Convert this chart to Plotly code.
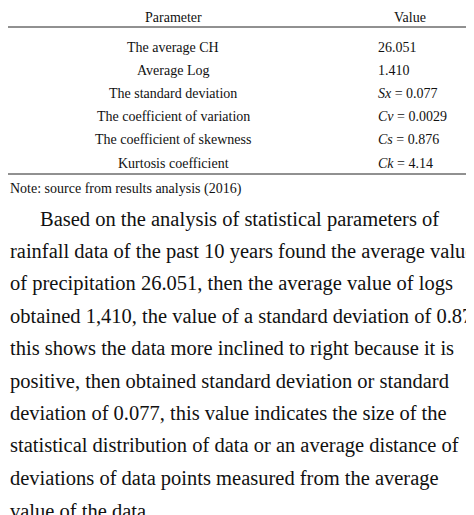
import plotly.graph_objects as go

params = ["The average CH", "Average Log", "The standard deviation",
          "The coefficient of variation", "The coefficient of skewness", "Kurtosis coefficient"]
values = ["26.051", "1.410", "<i>Sx</i> = 0.077", "<i>Cv</i> = 0.0029", "<i>Cs</i> = 0.876", "<i>Ck</i> = 4.14"]
note = "Note: source from results analysis (2016)"
para = [
    "Based on the analysis of statistical parameters of",
    "rainfall data of the past 10 years found the average value",
    "of precipitation 26.051, then the average value of logs",
    "obtained 1,410, the value of a standard deviation of 0.876",
    "this shows the data more inclined to right because it is",
    "positive, then obtained standard deviation or standard",
    "deviation of 0.077, this value indicates the size of the",
    "statistical distribution of data or an average distance of",
    "deviations of data points measured from the average",
    "value of the data.",
]

W, H = 474, 515
fig = go.Figure()
ann = []
tf = dict(family="Liberation Serif", size=14, color="#111")
ann.append(dict(x=165, y=9, text="Parameter", font=tf, xanchor="center"))
ann.append(dict(x=402, y=9, text="Value", font=tf, xanchor="center"))
for i, (p, v) in enumerate(zip(params, values)):
    y = 39 + i * 23.2
    ann.append(dict(x=165, y=y, text=p, font=tf, xanchor="center"))
    ann.append(dict(x=368, y=y, text=v, font=tf, xanchor="left"))
ann.append(dict(x=0, y=181, text=note, font=tf, xanchor="left"))
pf = dict(family="Liberation Serif", size=20.5, color="#111")
for i, line in enumerate(para):
    ann.append(dict(x=30 if i == 0 else 0, y=211 + i * 32.4, text=line, font=pf, xanchor="left"))
for a in ann:
    a.update(xref="x", yref="y", showarrow=False, yanchor="middle")

shapes = [dict(type="line", x0=0, x1=W, y0=y, y1=y, xref="x", yref="y",
               line=dict(color="#222", width=1)) for y in (19, 166)]

fig.update_layout(width=W, height=H, margin=dict(l=0, r=0, t=0, b=0),
                  paper_bgcolor="white", plot_bgcolor="white",
                  xaxis=dict(range=[0, W], visible=False),
                  yaxis=dict(range=[H, 0], visible=False),
                  annotations=ann, shapes=shapes, showlegend=False)
fig.write_html("out.html")
